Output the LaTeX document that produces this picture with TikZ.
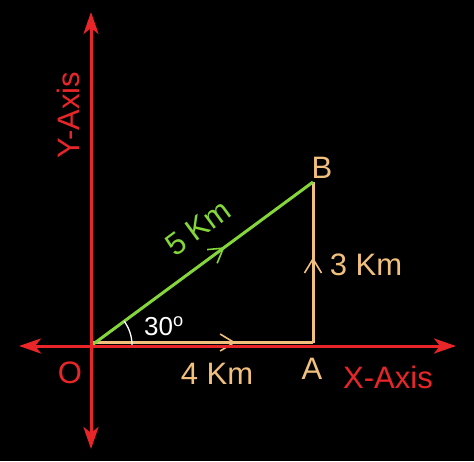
\documentclass[tikz,border=0pt]{standalone}
\usepackage{fontspec}
\setmainfont{Liberation Sans}
\usetikzlibrary{arrows.meta,decorations.markings}
\definecolor{axred}{RGB}{232,38,42}
\definecolor{vgreen}{RGB}{132,214,58}
\definecolor{vorange}{RGB}{242,192,126}
\tikzset{
  axis/.style={draw=axred,line width=3pt,{Stealth[length=22pt,width=15pt,inset=6pt]}-{Stealth[length=22pt,width=15pt,inset=6pt]}},
  midarrow/.style={postaction={decorate},decoration={markings,mark=at position #1 with {\arrow{Straight Barb[length=14pt,width=17pt,line width=1.6pt]}}}},
  lbl/.style={font=\fontsize{31}{31}\selectfont,inner sep=0pt},
}
\begin{document}
\begin{tikzpicture}[x=1pt,y=-1pt]
\useasboundingbox[fill=black] (0,0) rectangle (474,461);
\coordinate (O) at (92,345);
\coordinate (A) at (313,342.5);
\coordinate (Ao) at (92,342.5);
\coordinate (B) at (313,182);
\coordinate (XL) at (19,346);
\coordinate (XR) at (456,346);
\coordinate (YT) at (91,12);
\coordinate (YB) at (91,449);
% vectors
\draw[vorange,line width=3pt,midarrow=0.65] (Ao) -- (A);
\draw[vorange,line width=3pt,midarrow=0.53] (A) -- (B);
\draw[vgreen,line width=3pt,midarrow=0.60] (O) -- (B);
% axes
\draw[axis] (XL) -- (XR);
\draw[axis] (YB) -- (YT);
% angle
\draw[white,line width=1.3pt] ([shift={(0:40)}]O) arc[start angle=0,end angle=-36.4,radius=40];
% labels
\node[lbl,text=white,font=\fontsize{26}{26}\selectfont] (ang) at (164,326) {30\textsuperscript{o}};
\node[lbl,text=axred] (on) at (70,373) {O};
\node[lbl,text=vorange] (an) at (312,369) {A};
\node[lbl,text=vorange] (bn) at (322,168) {B};
\node[lbl,text=vorange] (fk) at (217,374) {4 Km};
\node[lbl,text=vorange] (tk) at (366,265) {3 Km};
\node[lbl,text=vgreen,rotate=36.4] (gk) at (198,228) {5 Km};
\node[lbl,text=axred] (xa) at (388,377) {X-Axis};
\node[lbl,text=axred,rotate=90] (ya) at (68,115) {Y-Axis};
\end{tikzpicture}
\end{document}
